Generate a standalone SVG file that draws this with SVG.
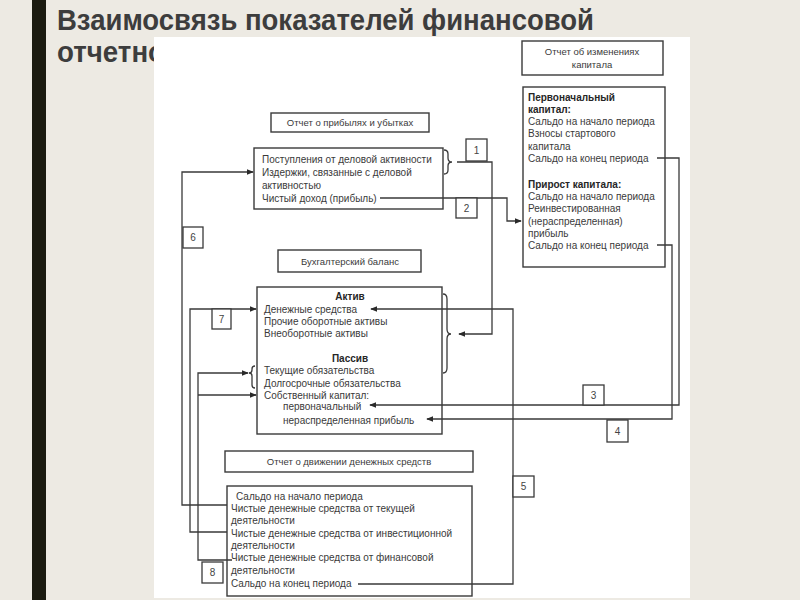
<svg xmlns="http://www.w3.org/2000/svg" width="800" height="600" viewBox="0 0 800 600">
<defs>
<style>
.bx{fill:#fff;stroke:#3a3a3a;stroke-width:1.4}
.nb{fill:#fff;stroke:#3a3a3a;stroke-width:1.3}
.ln{fill:none;stroke:#3a3a3a;stroke-width:1.3}
.t{font-family:"Liberation Sans",Arial,sans-serif;font-size:10px;fill:#3a3a3a}
.tt{font-family:"Liberation Sans",Arial,sans-serif;font-size:9.5px;fill:#3a3a3a}
.b{font-weight:bold;fill:#262626}
.n{font-family:"Liberation Sans",Arial,sans-serif;font-size:10px;fill:#444;text-anchor:middle}
.c{text-anchor:middle}
</style>
<marker id="ar" viewBox="0 0 8 8" refX="7" refY="4" markerWidth="7" markerHeight="7" markerUnits="userSpaceOnUse" orient="auto">
<path d="M0,0.8 L8,4 L0,7.2 Z" fill="#2a2a2a"/>
</marker>
</defs>
<rect x="0" y="0" width="800" height="600" fill="#EDEAE3"/>
<rect x="32" y="0" width="14" height="600" fill="#1b1b10"/>
<g id="title">
<text x="57" y="30" font-family="'Liberation Sans',Arial,sans-serif" font-size="30" font-weight="bold" fill="#3d3d3d" textLength="537" lengthAdjust="spacingAndGlyphs">Взаимосвязь показателей финансовой</text>
<text x="57" y="62" font-family="'Liberation Sans',Arial,sans-serif" font-size="30" font-weight="bold" fill="#3d3d3d" textLength="108" lengthAdjust="spacingAndGlyphs">отчетно</text>
</g>
<rect x="154" y="37" width="536" height="561" fill="#fff"/>

<g id="capital-title">
<rect class="bx" x="522" y="41" width="141" height="34"/>
<text class="tt c" x="592" y="55">Отчет об изменениях</text>
<text class="tt c" x="592" y="68">капитала</text>
</g>
<g id="capital">
<rect class="bx" x="523" y="87" width="142" height="180"/>
<text class="t b" x="528" y="101">Первоначальный</text>
<text class="t b" x="528" y="113">капитал:</text>
<text class="t" x="528" y="125">Сальдо на начало периода</text>
<text class="t" x="528" y="137">Взносы стартового</text>
<text class="t" x="528" y="150">капитала</text>
<text class="t" x="528" y="162">Сальдо на конец периода</text>
<text class="t b" x="528" y="188">Прирост капитала:</text>
<text class="t" x="528" y="200">Сальдо на начало периода</text>
<text class="t" x="528" y="212">Реинвестированная</text>
<text class="t" x="528" y="225">(нераспределенная)</text>
<text class="t" x="528" y="237">прибыль</text>
<text class="t" x="528" y="249">Сальдо на конец периода</text>
</g>
<g id="income-title">
<rect class="bx" x="271" y="113" width="158" height="19"/>
<text class="tt c" x="350" y="126">Отчет о прибылях и убытках</text>
</g>
<g id="income">
<rect class="bx" x="254" y="148" width="189" height="61"/>
<text class="t" x="262" y="163">Поступления от деловой активности</text>
<text class="t" x="262" y="176">Издержки, связанные с деловой</text>
<text class="t" x="262" y="189">активностью</text>
<text class="t" x="262" y="202">Чистый доход (прибыль)</text>
</g>
<g id="balance-title">
<rect class="bx" x="278" y="250" width="143" height="22"/>
<text class="tt c" x="350" y="265">Бухгалтерский баланс</text>
</g>
<g id="balance">
<rect class="bx" x="257" y="287" width="185" height="147"/>
<text class="t b c" x="350" y="300">Актив</text>
<text class="t" x="264" y="313">Денежные средства</text>
<text class="t" x="264" y="325">Прочие оборотные активы</text>
<text class="t" x="264" y="337">Внеоборотные активы</text>
<text class="t b c" x="350" y="362">Пассив</text>
<text class="t" x="264" y="374">Текущие обязательства</text>
<text class="t" x="264" y="387">Долгосрочные обязательства</text>
<text class="t" x="264" y="399">Собственный капитал:</text>
<text class="t" x="283" y="410">первоначальный</text>
<text class="t" x="283" y="424">нераспределенная прибыль</text>
</g>
<g id="cash-title">
<rect class="bx" x="225" y="451" width="248" height="21"/>
<text class="tt c" x="349" y="465">Отчет о движении денежных средств</text>
</g>
<g id="cash">
<rect class="bx" x="227" y="486" width="245" height="110"/>
<text class="t" x="236" y="500">Сальдо на начало периода</text>
<text class="t" x="231" y="512">Чистые денежные средства от текущей</text>
<text class="t" x="231" y="524">деятельности</text>
<text class="t" x="231" y="537">Чистые денежные средства от инвестиционной</text>
<text class="t" x="231" y="549">деятельности</text>
<text class="t" x="231" y="561">Чистые денежные средства от финансовой</text>
<text class="t" x="231" y="574">деятельности</text>
<text class="t" x="231" y="587">Сальдо на конец периода</text>
</g>

<g id="connectors">
<path class="ln" d="M444,150 Q448,150 448,154 L448,158 Q448,162 452,162 Q448,162 448,166 L448,170 Q448,174 444,174"/>
<path class="ln" d="M443,294 Q447,294 447,299 L447,329 Q447,334 451,334 Q447,334 447,339 L447,368 Q447,373 443,373"/>
<path class="ln" d="M255,366 Q252,366 252,369 L252,370 Q252,373 249,373 Q252,373 252,376 L252,385 Q252,388 255,388"/>
<path class="ln" d="M457,162 L492,162 L492,334 L459,334" marker-end="url(#ar)"/>
<path class="ln" d="M380,198 L507,198 L507,221 L521,221" marker-end="url(#ar)"/>
<path class="ln" d="M657,158 L679,158 L679,405 L370,405" marker-end="url(#ar)"/>
<path class="ln" d="M657,245 L672,245 L672,419 L427,419" marker-end="url(#ar)"/>
<path class="ln" d="M358,584 L513,584 L513,309 L371,309" marker-end="url(#ar)"/>
<path class="ln" d="M227,505 L182,505 L182,172 L253,172" marker-end="url(#ar)"/>
<path class="ln" d="M227,532 L190,532 L190,309 L256,309" marker-end="url(#ar)"/>
<path class="ln" d="M232,560 L198,560 L198,373 L248,373" marker-end="url(#ar)"/>
<path class="ln" d="M198,395 L256,395" marker-end="url(#ar)"/>
</g>

<g id="n1"><rect class="nb" x="466" y="139" width="21" height="22"/><text class="n" x="476.5" y="154">1</text></g>
<g id="n2"><rect class="nb" x="456" y="198" width="21" height="20"/><text class="n" x="466.5" y="212">2</text></g>
<g id="n3"><rect class="nb" x="583" y="385" width="21" height="20"/><text class="n" x="593.5" y="399">3</text></g>
<g id="n4"><rect class="nb" x="607" y="420" width="21" height="22"/><text class="n" x="617.5" y="435">4</text></g>
<g id="n5"><rect class="nb" x="513" y="476" width="21" height="21"/><text class="n" x="523.5" y="490">5</text></g>
<g id="n6"><rect class="nb" x="183" y="227" width="20" height="21"/><text class="n" x="193" y="241">6</text></g>
<g id="n7"><rect class="nb" x="212" y="309" width="19" height="20"/><text class="n" x="221.5" y="323">7</text></g>
<g id="n8"><rect class="nb" x="202" y="562" width="21" height="21"/><text class="n" x="212.5" y="576">8</text></g>
</svg>
